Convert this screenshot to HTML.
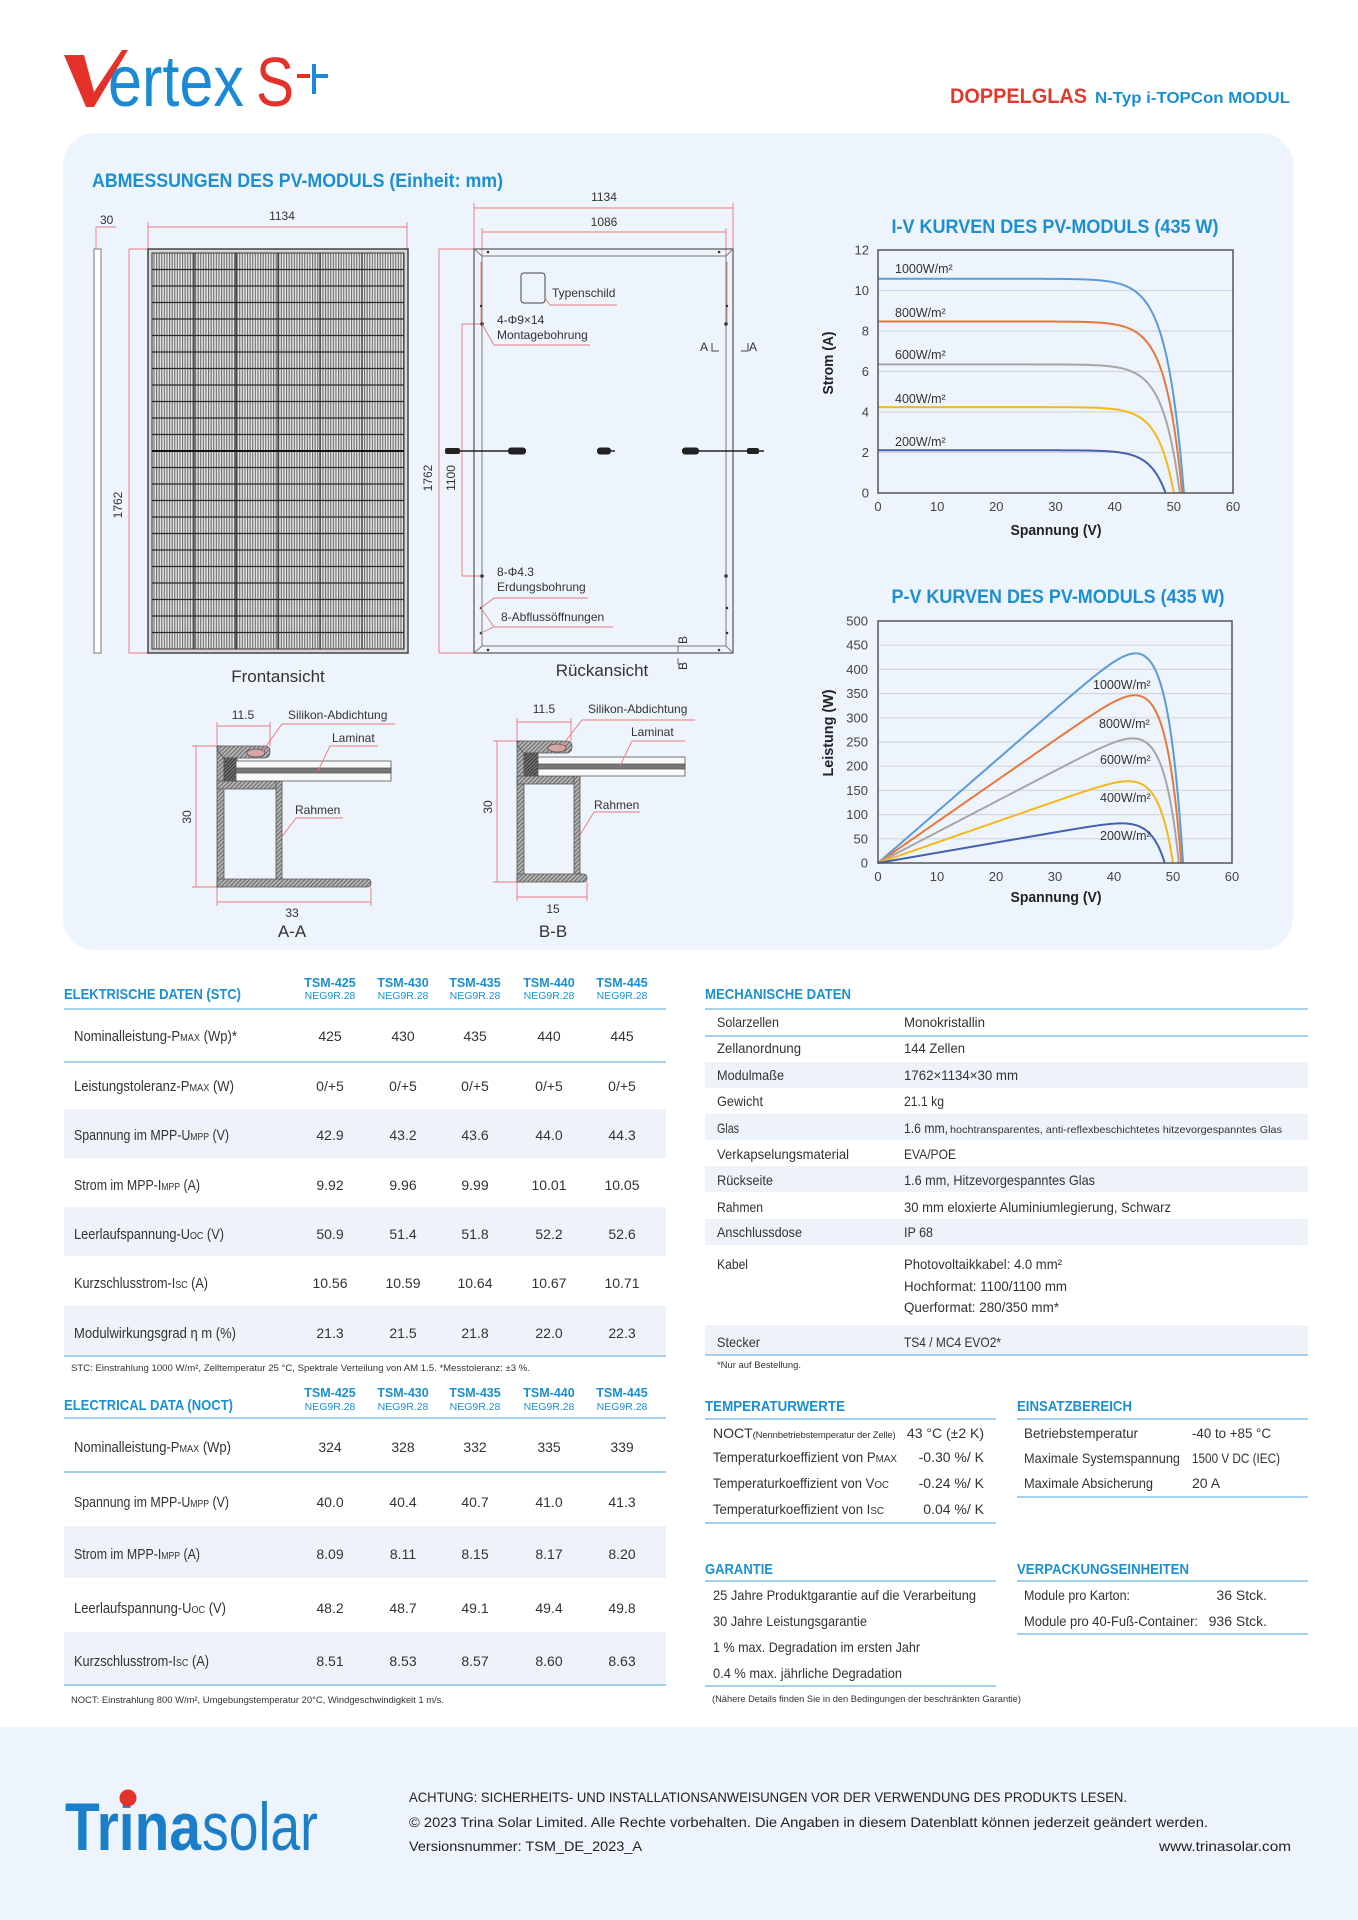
<!DOCTYPE html>
<html><head><meta charset="utf-8">
<style>
html,body{margin:0;padding:0;background:#fff;}
svg{display:block}
text{font-family:"Liberation Sans",Arial,sans-serif;}
.b{font-weight:bold}
.h{font-weight:bold;fill:#1c8fd1}
.t{fill:#333;font-size:15px}
.s{fill:#333;font-size:14px}
.d{fill:#333;font-size:12px}
.v{fill:#333;font-size:14px;text-anchor:middle}
.tk{fill:#444;font-size:13px}
.r{stroke:#e8797c;stroke-width:0.9;fill:none}
.ln{stroke:#86c4e8;stroke-width:1.6;fill:none}
.sh{fill:#eef3fa}
.ch{font-weight:bold;fill:#1c8fd1;font-size:12.5px;text-anchor:middle}
.cs{fill:#1c8fd1;font-size:10.5px;text-anchor:middle}
.fn{fill:#333;font-size:9.5px}
.ft{fill:#222;font-size:14px}
.gr{stroke:#d3d7dd;stroke-width:1.2}
</style></head><body>
<svg width="1358" height="1920" viewBox="0 0 1358 1920">
<defs>
<pattern id="st" patternUnits="userSpaceOnUse" width="2.6" height="10"><rect width="2.6" height="10" fill="#e6e6e6"/><rect width="1.1" height="10" fill="#6a6a6a"/></pattern>
<pattern id="hat" patternUnits="userSpaceOnUse" width="3" height="3" patternTransform="rotate(45)"><rect width="3" height="3" fill="#b4b4b4"/><rect width="1" height="3" fill="#666"/></pattern>
<pattern id="hat2" patternUnits="userSpaceOnUse" width="2.5" height="2.5" patternTransform="rotate(45)"><rect width="2.5" height="2.5" fill="#777"/><rect width="1" height="2.5" fill="#333"/></pattern>
</defs>

<!-- HEADER -->
<polygon points="64,55 84,55 94,92 122,50 128,50 94,107 86,107" fill="#e4322b"/>
<text x="108" y="106" font-size="72" fill="#1b8ad6" textLength="136" lengthAdjust="spacingAndGlyphs">ertex</text>
<text x="256" y="106" font-size="70" fill="#e4322b" textLength="38" lengthAdjust="spacingAndGlyphs">S</text>
<rect x="297" y="74" width="13" height="4" fill="#e4322b"/>
<rect x="312" y="64" width="4" height="30" fill="#1b8ad6"/>
<rect x="316" y="74" width="12" height="4" fill="#1b8ad6"/>
<text x="950" y="103" class="b" font-size="21" fill="#e03a2f" textLength="137" lengthAdjust="spacingAndGlyphs">DOPPELGLAS</text>
<text x="1095" y="103" class="b" font-size="16" fill="#1c8fd1" textLength="195" lengthAdjust="spacingAndGlyphs">N-Typ i-TOPCon MODUL</text>

<!-- CARD -->
<rect x="63" y="133" width="1230" height="817" rx="32" fill="#eef4fb"/>
<text x="92" y="187" class="h" font-size="19" textLength="411" lengthAdjust="spacingAndGlyphs">ABMESSUNGEN DES PV-MODULS (Einheit: mm)</text>

<!-- FRONT VIEW -->
<rect x="94" y="249" width="7" height="404" fill="#fff" stroke="#777" stroke-width="1"/>
<path class="r" d="M96,227V249M96,227H116"/>
<text x="100" y="224" class="d">30</text>
<path class="r" d="M148,227H407M148,222V249M407,222V249"/>
<text x="282" y="220" class="d" text-anchor="middle">1134</text>
<path class="r" d="M129,249V653M129,249H148M129,653H148"/>
<text transform="translate(122,505) rotate(-90)" class="d" text-anchor="middle">1762</text>
<rect x="148" y="249" width="260" height="404" fill="#d8d8d8" stroke="#444" stroke-width="1.5"/>
<rect x="152" y="253" width="252" height="396" fill="url(#st)" stroke="#333" stroke-width="1"/>
<path stroke="#2a2a2a" stroke-width="1.2" fill="none" d="M194,253V649M236,253V649M278,253V649M320,253V649M362,253V649M152,269.5H404M152,286H404M152,302.5H404M152,319H404M152,335.5H404M152,352H404M152,368.5H404M152,385H404M152,401.5H404M152,418H404M152,434.5H404M152,467.5H404M152,484H404M152,500.5H404M152,517H404M152,533.5H404M152,550H404M152,566.5H404M152,583H404M152,599.5H404M152,616H404M152,632.5H404"/>
<path stroke="#111" stroke-width="2" d="M152,451H404"/>
<text x="278" y="682" font-size="17" fill="#333" text-anchor="middle">Frontansicht</text>

<!-- BACK VIEW -->
<path class="r" d="M474,208H733M474,203V249M733,203V249"/>
<text x="604" y="201" class="d" text-anchor="middle">1134</text>
<path class="r" d="M482,232H726M482,228V256M726,228V256"/>
<text x="604" y="226" class="d" text-anchor="middle">1086</text>
<path class="r" d="M439,249V653M439,249H474M439,653H474"/>
<text transform="translate(432,478) rotate(-90)" class="d" text-anchor="middle">1762</text>
<path class="r" d="M462,324V576M462,324H482M462,576H482"/>
<text transform="translate(455,478) rotate(-90)" class="d" text-anchor="middle">1100</text>
<path class="r" d="M481,262V325M727,262V325"/>
<rect x="474" y="249" width="259" height="404" fill="none" stroke="#555" stroke-width="1.2"/>
<rect x="482" y="256" width="244" height="390" fill="none" stroke="#777" stroke-width="1"/>
<path d="M474,249L482,256M733,249L726,256M474,653L482,646M733,653L726,646" stroke="#777"/>
<g fill="#333">
<circle cx="488" cy="252" r="1.3"/><circle cx="719" cy="252" r="1.3"/><circle cx="488" cy="650" r="1.3"/><circle cx="719" cy="650" r="1.3"/>
<circle cx="482" cy="324" r="1.8"/><circle cx="726" cy="324" r="1.8"/><circle cx="482" cy="576" r="1.8"/><circle cx="726" cy="576" r="1.8"/>
<circle cx="481" cy="608" r="1.3"/><circle cx="481" cy="633" r="1.3"/><circle cx="727" cy="608" r="1.3"/><circle cx="727" cy="633" r="1.3"/>
<circle cx="481" cy="306" r="1.2"/><circle cx="727" cy="306" r="1.2"/>
</g>
<rect x="521" y="273" width="24" height="30" rx="3" fill="none" stroke="#444" stroke-width="1"/>
<text x="552" y="297" class="d">Typenschild</text>
<path class="r" d="M545,298L550,305H617"/>
<text x="497" y="324" class="d">4-Φ9×14</text>
<text x="497" y="339" class="d">Montagebohrung</text>
<path class="r" d="M482,324L494,345H590"/>
<text x="700" y="351" class="d">A</text>
<path d="M712,343V351H719M741,351H748V343" stroke="#444" fill="none" stroke-width="1"/>
<text x="749" y="351" class="d">A</text>
<g fill="#222">
<rect x="445" y="448" width="15" height="6" rx="2"/>
<rect x="508" y="447.5" width="18" height="7" rx="3"/>
<rect x="597" y="447.5" width="14" height="7" rx="3"/>
<rect x="682" y="447.5" width="17" height="7" rx="3"/>
<rect x="747" y="448" width="12" height="6" rx="2"/>
</g>
<path d="M460,451H508M611,451H615M699,451H747M759,451H764" stroke="#222" stroke-width="1.5"/>
<text x="497" y="576" class="d">8-Φ4.3</text>
<text x="497" y="591" class="d">Erdungsbohrung</text>
<path class="r" d="M481,608L494,598H588"/>
<text x="501" y="621" class="d">8-Abflussöffnungen</text>
<path class="r" d="M481,633L494,627H613M481,608L494,627"/>
<text transform="translate(687,640) rotate(-90)" class="d" text-anchor="middle">B</text>
<text transform="translate(687,666) rotate(-90)" class="d" text-anchor="middle">B</text>
<path d="M678,646V652M678,658V664H684" stroke="#444" fill="none" stroke-width="0.8"/>
<text x="602" y="676" font-size="17" fill="#333" text-anchor="middle">Rückansicht</text>

<!-- CROSS SECTION A-A -->
<path class="r" d="M217,726H270M217,722V746M270,722V746"/>
<path class="r" d="M196,746V887M192,746H217M192,887H217"/>
<path class="r" d="M217,902H371M217,887V906M371,887V906"/>
<g stroke="#555" stroke-width="0.8">
<rect x="217" y="746" width="7" height="141" fill="url(#hat)"/>
<path d="M217,750Q217,746 221,746H264Q270,746 270,751Q270,758 264,758H224Z" fill="url(#hat)"/>
<rect x="217" y="781" width="65" height="8" fill="url(#hat)"/>
<rect x="276" y="781" width="6" height="106" fill="url(#hat)"/>
<path d="M217,879H367Q371,879 371,883Q371,887 367,887H217Z" fill="url(#hat)"/>
<rect x="224" y="758" width="13" height="23" fill="url(#hat2)"/>
<rect x="236" y="761" width="155" height="20" fill="#f7f9fb"/>
<rect x="236" y="768" width="155" height="5" fill="#777"/>
<ellipse cx="256" cy="753" rx="9" ry="4" fill="#d7a5a5"/>
</g>
<path class="r" d="M262,752L282,724H395M318,771L330,746H378M281,838L296,818H343"/>
<text x="243" y="719" class="d" text-anchor="middle">11.5</text>
<text x="288" y="719" class="d">Silikon-Abdichtung</text>
<text x="332" y="742" class="d">Laminat</text>
<text x="295" y="814" class="d">Rahmen</text>
<text transform="translate(191,817) rotate(-90)" class="d" text-anchor="middle">30</text>
<text x="292" y="917" class="d" text-anchor="middle">33</text>
<text x="292" y="937" font-size="17" fill="#333" text-anchor="middle">A-A</text>

<!-- CROSS SECTION B-B -->
<path class="r" d="M517,722H571M517,718V741M571,718V741"/>
<path class="r" d="M497,741V882M493,741H517M493,882H517"/>
<path class="r" d="M517,897H587M517,882V901M587,882V901"/>
<g stroke="#555" stroke-width="0.8">
<rect x="517" y="741" width="7" height="141" fill="url(#hat)"/>
<path d="M517,745Q517,741 521,741H566Q572,741 572,746Q572,753 566,753H524Z" fill="url(#hat)"/>
<rect x="517" y="776" width="63" height="8" fill="url(#hat)"/>
<rect x="574" y="776" width="6" height="106" fill="url(#hat)"/>
<path d="M517,874H583Q587,874 587,878Q587,882 583,882H517Z" fill="url(#hat)"/>
<rect x="524" y="753" width="14" height="23" fill="url(#hat2)"/>
<rect x="538" y="757" width="147" height="19" fill="#f7f9fb"/>
<rect x="538" y="764" width="147" height="5" fill="#777"/>
<ellipse cx="557" cy="748" rx="9" ry="4" fill="#d7a5a5"/>
</g>
<path class="r" d="M560,748L582,720H695M620,766L632,741H685M580,835L594,812H640"/>
<text x="544" y="713" class="d" text-anchor="middle">11.5</text>
<text x="588" y="713" class="d">Silikon-Abdichtung</text>
<text x="631" y="736" class="d">Laminat</text>
<text x="594" y="809" class="d">Rahmen</text>
<text transform="translate(492,807) rotate(-90)" class="d" text-anchor="middle">30</text>
<text x="553" y="913" class="d" text-anchor="middle">15</text>
<text x="553" y="937" font-size="17" fill="#333" text-anchor="middle">B-B</text>

<!-- IV CHART -->
<text x="1055" y="233" class="h" font-size="19.5" text-anchor="middle" textLength="327" lengthAdjust="spacingAndGlyphs">I-V KURVEN DES PV-MODULS (435 W)</text>
<path class="gr" d="M878,452.5H1233M878,412H1233M878,371.5H1233M878,331H1233M878,290.5H1233"/>
<g class="tk" text-anchor="end">
<text x="869" y="497.5">0</text><text x="869" y="457">2</text><text x="869" y="416.5">4</text><text x="869" y="376">6</text><text x="869" y="335.5">8</text><text x="869" y="295">10</text><text x="869" y="254.5">12</text>
</g>
<g class="tk" text-anchor="middle">
<text x="878" y="511">0</text><text x="937.2" y="511">10</text><text x="996.3" y="511">20</text><text x="1055.5" y="511">30</text><text x="1114.7" y="511">40</text><text x="1173.8" y="511">50</text><text x="1233" y="511">60</text>
</g>
<text x="1056" y="535" class="b" font-size="15" fill="#222" text-anchor="middle" textLength="91" lengthAdjust="spacingAndGlyphs">Spannung (V)</text>
<text transform="translate(833,363) rotate(-90)" class="b" font-size="15" fill="#222" text-anchor="middle" textLength="63" lengthAdjust="spacingAndGlyphs">Strom (A)</text>
<g fill="none" stroke-width="2">
<path id="i0" stroke="#5b9bd5"/><path id="i1" stroke="#e5773f"/><path id="i2" stroke="#a6a6a6"/><path id="i3" stroke="#f4b81c"/><path id="i4" stroke="#4262ad"/>
</g>
<rect x="878" y="250" width="355" height="243" fill="none" stroke="#555" stroke-width="1.5"/>
<g font-size="12.5" fill="#333">
<text x="895" y="273">1000W/m²</text><text x="895" y="317">800W/m²</text><text x="895" y="359">600W/m²</text><text x="895" y="403">400W/m²</text><text x="895" y="446">200W/m²</text>
</g>

<!-- PV CHART -->
<text x="1058" y="603" class="h" font-size="19.5" text-anchor="middle" textLength="333" lengthAdjust="spacingAndGlyphs">P-V KURVEN DES PV-MODULS (435 W)</text>
<path class="gr" d="M878,838.8H1232M878,814.6H1232M878,790.4H1232M878,766.2H1232M878,742H1232M878,717.8H1232M878,693.6H1232M878,669.4H1232M878,645.2H1232"/>
<g class="tk" text-anchor="end">
<text x="868" y="867.5">0</text><text x="868" y="843.3">50</text><text x="868" y="819.1">100</text><text x="868" y="794.9">150</text><text x="868" y="770.7">200</text><text x="868" y="746.5">250</text><text x="868" y="722.3">300</text><text x="868" y="698.1">350</text><text x="868" y="673.9">400</text><text x="868" y="649.7">450</text><text x="868" y="625.5">500</text>
</g>
<g class="tk" text-anchor="middle">
<text x="878" y="881">0</text><text x="937" y="881">10</text><text x="996" y="881">20</text><text x="1055" y="881">30</text><text x="1114" y="881">40</text><text x="1173" y="881">50</text><text x="1232" y="881">60</text>
</g>
<text x="1056" y="902" class="b" font-size="15" fill="#222" text-anchor="middle" textLength="91" lengthAdjust="spacingAndGlyphs">Spannung (V)</text>
<text transform="translate(833,733) rotate(-90)" class="b" font-size="15" fill="#222" text-anchor="middle" textLength="87" lengthAdjust="spacingAndGlyphs">Leistung (W)</text>
<g fill="none" stroke-width="2">
<path id="p0" stroke="#5b9bd5"/><path id="p1" stroke="#e5773f"/><path id="p2" stroke="#a6a6a6"/><path id="p3" stroke="#f4b81c"/><path id="p4" stroke="#4262ad"/>
</g>
<rect x="878" y="621" width="354" height="242" fill="none" stroke="#555" stroke-width="1.5"/>
<g font-size="12.5" fill="#333">
<text x="1093" y="689">1000W/m²</text><text x="1099" y="728">800W/m²</text><text x="1100" y="764">600W/m²</text><text x="1100" y="802">400W/m²</text><text x="1100" y="840">200W/m²</text>
</g>

<!-- STC TABLE -->
<rect class="sh" x="64" y="1109" width="602" height="49"/>
<rect class="sh" x="64" y="1207" width="602" height="49"/>
<rect class="sh" x="64" y="1306" width="602" height="50"/>
<path class="ln" d="M64,1009H666M64,1062H666M64,1356H666"/>
<text x="64" y="999" class="h" font-size="15" textLength="177" lengthAdjust="spacingAndGlyphs">ELEKTRISCHE DATEN (STC)</text>
<text x="330" y="987" class="ch">TSM-425</text><text x="330" y="999" class="cs">NEG9R.28</text>
<text x="403" y="987" class="ch">TSM-430</text><text x="403" y="999" class="cs">NEG9R.28</text>
<text x="475" y="987" class="ch">TSM-435</text><text x="475" y="999" class="cs">NEG9R.28</text>
<text x="549" y="987" class="ch">TSM-440</text><text x="549" y="999" class="cs">NEG9R.28</text>
<text x="622" y="987" class="ch">TSM-445</text><text x="622" y="999" class="cs">NEG9R.28</text>

<text x="74" y="1041" class="t" textLength="163" lengthAdjust="spacingAndGlyphs">Nominalleistung-P<tspan font-size="10.5">MAX</tspan> (Wp)*</text>
<text x="74" y="1091" class="t" textLength="160" lengthAdjust="spacingAndGlyphs">Leistungstoleranz-P<tspan font-size="10.5">MAX</tspan> (W)</text>
<text x="74" y="1140" class="t" textLength="155" lengthAdjust="spacingAndGlyphs">Spannung im MPP-U<tspan font-size="10.5">MPP</tspan> (V)</text>
<text x="74" y="1190" class="t" textLength="126" lengthAdjust="spacingAndGlyphs">Strom im MPP-I<tspan font-size="10.5">MPP</tspan> (A)</text>
<text x="74" y="1239" class="t" textLength="150" lengthAdjust="spacingAndGlyphs">Leerlaufspannung-U<tspan font-size="10.5">OC</tspan> (V)</text>
<text x="74" y="1288" class="t" textLength="134" lengthAdjust="spacingAndGlyphs">Kurzschlusstrom-I<tspan font-size="10.5">SC</tspan> (A)</text>
<text x="74" y="1338" class="t" textLength="162" lengthAdjust="spacingAndGlyphs">Modulwirkungsgrad η m (%)</text>
<g class="v">
<text x="330" y="1041">425</text><text x="403" y="1041">430</text><text x="475" y="1041">435</text><text x="549" y="1041">440</text><text x="622" y="1041">445</text>
<text x="330" y="1091">0/+5</text><text x="403" y="1091">0/+5</text><text x="475" y="1091">0/+5</text><text x="549" y="1091">0/+5</text><text x="622" y="1091">0/+5</text>
<text x="330" y="1140">42.9</text><text x="403" y="1140">43.2</text><text x="475" y="1140">43.6</text><text x="549" y="1140">44.0</text><text x="622" y="1140">44.3</text>
<text x="330" y="1190">9.92</text><text x="403" y="1190">9.96</text><text x="475" y="1190">9.99</text><text x="549" y="1190">10.01</text><text x="622" y="1190">10.05</text>
<text x="330" y="1239">50.9</text><text x="403" y="1239">51.4</text><text x="475" y="1239">51.8</text><text x="549" y="1239">52.2</text><text x="622" y="1239">52.6</text>
<text x="330" y="1288">10.56</text><text x="403" y="1288">10.59</text><text x="475" y="1288">10.64</text><text x="549" y="1288">10.67</text><text x="622" y="1288">10.71</text>
<text x="330" y="1338">21.3</text><text x="403" y="1338">21.5</text><text x="475" y="1338">21.8</text><text x="549" y="1338">22.0</text><text x="622" y="1338">22.3</text>
</g>
<text x="71" y="1371" class="fn" textLength="459" lengthAdjust="spacingAndGlyphs">STC: Einstrahlung 1000 W/m², Zelltemperatur 25 °C, Spektrale Verteilung von AM 1.5.     *Messtoleranz: ±3 %.</text>

<!-- MECHANICAL TABLE -->
<rect class="sh" x="705" y="1062" width="603" height="26"/>
<rect class="sh" x="705" y="1114" width="603" height="26"/>
<rect class="sh" x="705" y="1166" width="603" height="26"/>
<rect class="sh" x="705" y="1219" width="603" height="26"/>
<rect class="sh" x="705" y="1325" width="603" height="30"/>
<path class="ln" d="M705,1009H1308M705,1036H1308M705,1355H1308"/>
<text x="705" y="999" class="h" font-size="15" textLength="146" lengthAdjust="spacingAndGlyphs">MECHANISCHE DATEN</text>
<g class="s">
<text x="717" y="1027" textLength="62" lengthAdjust="spacingAndGlyphs">Solarzellen</text>
<text x="904" y="1027" textLength="81" lengthAdjust="spacingAndGlyphs">Monokristallin</text>
<text x="717" y="1053" textLength="84" lengthAdjust="spacingAndGlyphs">Zellanordnung</text>
<text x="904" y="1053" textLength="61" lengthAdjust="spacingAndGlyphs">144 Zellen</text>
<text x="717" y="1080" textLength="67" lengthAdjust="spacingAndGlyphs">Modulmaße</text>
<text x="904" y="1080" textLength="114" lengthAdjust="spacingAndGlyphs">1762×1134×30 mm</text>
<text x="717" y="1106" textLength="46" lengthAdjust="spacingAndGlyphs">Gewicht</text>
<text x="904" y="1106" textLength="40" lengthAdjust="spacingAndGlyphs">21.1 kg</text>
<text x="717" y="1133" textLength="22" lengthAdjust="spacingAndGlyphs">Glas</text>
<text x="904" y="1133" textLength="44" lengthAdjust="spacingAndGlyphs">1.6 mm,</text>
<text x="950" y="1133" font-size="10.5" textLength="332" lengthAdjust="spacingAndGlyphs">hochtransparentes, anti-reflexbeschichtetes hitzevorgespanntes Glas</text>
<text x="717" y="1159" textLength="132" lengthAdjust="spacingAndGlyphs">Verkapselungsmaterial</text>
<text x="904" y="1159" textLength="52" lengthAdjust="spacingAndGlyphs">EVA/POE</text>
<text x="717" y="1185" textLength="56" lengthAdjust="spacingAndGlyphs">Rückseite</text>
<text x="904" y="1185" textLength="191" lengthAdjust="spacingAndGlyphs">1.6 mm, Hitzevorgespanntes Glas</text>
<text x="717" y="1212" textLength="46" lengthAdjust="spacingAndGlyphs">Rahmen</text>
<text x="904" y="1212" textLength="267" lengthAdjust="spacingAndGlyphs">30 mm eloxierte Aluminiumlegierung, Schwarz</text>
<text x="717" y="1237" textLength="85" lengthAdjust="spacingAndGlyphs">Anschlussdose</text>
<text x="904" y="1237" textLength="29" lengthAdjust="spacingAndGlyphs">IP 68</text>
<text x="717" y="1269" textLength="31" lengthAdjust="spacingAndGlyphs">Kabel</text>
<text x="904" y="1269" textLength="158" lengthAdjust="spacingAndGlyphs">Photovoltaikkabel: 4.0 mm²</text>
<text x="904" y="1291" textLength="163" lengthAdjust="spacingAndGlyphs">Hochformat: 1100/1100 mm</text>
<text x="904" y="1312" textLength="155" lengthAdjust="spacingAndGlyphs">Querformat: 280/350 mm*</text>
<text x="717" y="1347" textLength="43" lengthAdjust="spacingAndGlyphs">Stecker</text>
<text x="904" y="1347" textLength="97" lengthAdjust="spacingAndGlyphs">TS4 / MC4 EVO2*</text>
</g>
<text x="717" y="1368" class="fn" textLength="84" lengthAdjust="spacingAndGlyphs">*Nur auf Bestellung.</text>

<!-- NOCT TABLE -->
<rect class="sh" x="64" y="1526" width="602" height="52"/>
<rect class="sh" x="64" y="1632" width="602" height="53"/>
<path class="ln" d="M64,1418H666M64,1472H666M64,1685H666"/>
<text x="64" y="1410" class="h" font-size="15" textLength="169" lengthAdjust="spacingAndGlyphs">ELECTRICAL DATA (NOCT)</text>
<text x="330" y="1397" class="ch">TSM-425</text><text x="330" y="1410" class="cs">NEG9R.28</text>
<text x="403" y="1397" class="ch">TSM-430</text><text x="403" y="1410" class="cs">NEG9R.28</text>
<text x="475" y="1397" class="ch">TSM-435</text><text x="475" y="1410" class="cs">NEG9R.28</text>
<text x="549" y="1397" class="ch">TSM-440</text><text x="549" y="1410" class="cs">NEG9R.28</text>
<text x="622" y="1397" class="ch">TSM-445</text><text x="622" y="1410" class="cs">NEG9R.28</text>
<text x="74" y="1452" class="t" textLength="157" lengthAdjust="spacingAndGlyphs">Nominalleistung-P<tspan font-size="10.5">MAX</tspan> (Wp)</text>
<text x="74" y="1507" class="t" textLength="155" lengthAdjust="spacingAndGlyphs">Spannung im MPP-U<tspan font-size="10.5">MPP</tspan> (V)</text>
<text x="74" y="1559" class="t" textLength="126" lengthAdjust="spacingAndGlyphs">Strom im MPP-I<tspan font-size="10.5">MPP</tspan> (A)</text>
<text x="74" y="1613" class="t" textLength="152" lengthAdjust="spacingAndGlyphs">Leerlaufspannung-U<tspan font-size="10.5">OC</tspan> (V)</text>
<text x="74" y="1666" class="t" textLength="135" lengthAdjust="spacingAndGlyphs">Kurzschlusstrom-I<tspan font-size="10.5">SC</tspan> (A)</text>
<g class="v">
<text x="330" y="1452">324</text><text x="403" y="1452">328</text><text x="475" y="1452">332</text><text x="549" y="1452">335</text><text x="622" y="1452">339</text>
<text x="330" y="1507">40.0</text><text x="403" y="1507">40.4</text><text x="475" y="1507">40.7</text><text x="549" y="1507">41.0</text><text x="622" y="1507">41.3</text>
<text x="330" y="1559">8.09</text><text x="403" y="1559">8.11</text><text x="475" y="1559">8.15</text><text x="549" y="1559">8.17</text><text x="622" y="1559">8.20</text>
<text x="330" y="1613">48.2</text><text x="403" y="1613">48.7</text><text x="475" y="1613">49.1</text><text x="549" y="1613">49.4</text><text x="622" y="1613">49.8</text>
<text x="330" y="1666">8.51</text><text x="403" y="1666">8.53</text><text x="475" y="1666">8.57</text><text x="549" y="1666">8.60</text><text x="622" y="1666">8.63</text>
</g>
<text x="71" y="1703" class="fn" textLength="373" lengthAdjust="spacingAndGlyphs">NOCT: Einstrahlung 800 W/m², Umgebungstemperatur 20°C, Windgeschwindigkeit 1  m/s.</text>

<!-- TEMPERATURWERTE -->
<path class="ln" d="M705,1419H996M705,1523H996"/>
<text x="705" y="1411" class="h" font-size="15" textLength="140" lengthAdjust="spacingAndGlyphs">TEMPERATURWERTE</text>
<g class="s">
<text x="713" y="1438">NOCT<tspan font-size="9.5" textLength="143">(Nennbetriebstemperatur der Zelle)</tspan></text>
<text x="984" y="1438" text-anchor="end">43 °C (±2 K)</text>
<text x="713" y="1462" textLength="184" lengthAdjust="spacingAndGlyphs">Temperaturkoeffizient von P<tspan font-size="10.5">MAX</tspan></text>
<text x="984" y="1462" text-anchor="end">-0.30 %/ K</text>
<text x="713" y="1488" textLength="176" lengthAdjust="spacingAndGlyphs">Temperaturkoeffizient von V<tspan font-size="10.5">OC</tspan></text>
<text x="984" y="1488" text-anchor="end">-0.24 %/ K</text>
<text x="713" y="1514" textLength="171" lengthAdjust="spacingAndGlyphs">Temperaturkoeffizient von I<tspan font-size="10.5">SC</tspan></text>
<text x="984" y="1514" text-anchor="end">0.04 %/ K</text>
</g>

<!-- EINSATZBEREICH -->
<path class="ln" d="M1017,1419H1308M1017,1497H1308"/>
<text x="1017" y="1411" class="h" font-size="15" textLength="115" lengthAdjust="spacingAndGlyphs">EINSATZBEREICH</text>
<g class="s">
<text x="1024" y="1438" textLength="114" lengthAdjust="spacingAndGlyphs">Betriebstemperatur</text>
<text x="1192" y="1438" textLength="79" lengthAdjust="spacingAndGlyphs">-40 to +85 °C</text>
<text x="1024" y="1463" textLength="156" lengthAdjust="spacingAndGlyphs">Maximale Systemspannung</text>
<text x="1192" y="1463" textLength="88" lengthAdjust="spacingAndGlyphs">1500 V DC (IEC)</text>
<text x="1024" y="1488" textLength="129" lengthAdjust="spacingAndGlyphs">Maximale Absicherung</text>
<text x="1192" y="1488">20 A</text>
</g>

<!-- GARANTIE -->
<path class="ln" d="M705,1581H996M705,1686H996"/>
<text x="705" y="1574" class="h" font-size="15" textLength="68" lengthAdjust="spacingAndGlyphs">GARANTIE</text>
<g class="s">
<text x="713" y="1600" textLength="263" lengthAdjust="spacingAndGlyphs">25 Jahre Produktgarantie auf die Verarbeitung</text>
<text x="713" y="1626" textLength="154" lengthAdjust="spacingAndGlyphs">30 Jahre Leistungsgarantie</text>
<text x="713" y="1652" textLength="207" lengthAdjust="spacingAndGlyphs">1 % max. Degradation im ersten Jahr</text>
<text x="713" y="1678" textLength="189" lengthAdjust="spacingAndGlyphs">0.4 % max. jährliche Degradation</text>
</g>
<text x="712" y="1702" class="fn" textLength="309" lengthAdjust="spacingAndGlyphs">(Nähere Details finden Sie in den Bedingungen der beschränkten Garantie)</text>

<!-- VERPACKUNG -->
<path class="ln" d="M1017,1581H1308M1017,1634H1308"/>
<text x="1017" y="1574" class="h" font-size="15" textLength="172" lengthAdjust="spacingAndGlyphs">VERPACKUNGSEINHEITEN</text>
<g class="s">
<text x="1024" y="1600" textLength="106" lengthAdjust="spacingAndGlyphs">Module pro Karton:</text>
<text x="1267" y="1600" text-anchor="end">36 Stck.</text>
<text x="1024" y="1626" textLength="174" lengthAdjust="spacingAndGlyphs">Module pro 40-Fuß-Container:</text>
<text x="1267" y="1626" text-anchor="end">936 Stck.</text>
</g>

<!-- FOOTER -->
<rect x="0" y="1727" width="1358" height="193" fill="#eef4fb"/>
<text x="65" y="1850" class="b" font-size="68" fill="#1a7fc8" textLength="136" lengthAdjust="spacingAndGlyphs">Trina</text>
<text x="202" y="1850" font-size="68" fill="#1a7fc8" textLength="116" lengthAdjust="spacingAndGlyphs">solar</text>
<circle cx="128" cy="1798" r="8.5" fill="#e4322b"/>
<text x="409" y="1802" class="ft" textLength="718" lengthAdjust="spacingAndGlyphs">ACHTUNG: SICHERHEITS- UND INSTALLATIONSANWEISUNGEN VOR DER VERWENDUNG DES PRODUKTS LESEN.</text>
<text x="409" y="1827" class="ft" textLength="799" lengthAdjust="spacingAndGlyphs">© 2023 Trina Solar Limited. Alle Rechte vorbehalten. Die Angaben in diesem Datenblatt können jederzeit geändert werden.</text>
<text x="409" y="1851" class="ft" textLength="233" lengthAdjust="spacingAndGlyphs">Versionsnummer: TSM_DE_2023_A</text>
<text x="1291" y="1851" class="ft" text-anchor="end" textLength="132" lengthAdjust="spacingAndGlyphs">www.trinasolar.com</text>
</svg>
<script>
(function(){
var P=[[10.58,51.7,2.9],[8.47,51.4,2.8],[6.35,51.0,2.8],[4.24,50.0,2.7],[2.11,48.6,2.6]];
for(var k=0;k<5;k++){
 var p=P[k],Isc=p[0],Voc=p[1],Vt=p[2],den=1-Math.exp(-Voc/Vt),a='',b='';
 for(var i=0;i<=300;i++){
  var V=Voc*i/300,I=Isc*(1-Math.exp((V-Voc)/Vt))/den; if(I<0)I=0;
  var x1=(878+V*355/60).toFixed(2), x2=(878+V*354/60).toFixed(2);
  a+=(i?'L':'M')+x1+' '+(493-I*243/12).toFixed(2);
  b+=(i?'L':'M')+x2+' '+(863-V*I*242/500).toFixed(2);
 }
 document.getElementById('i'+k).setAttribute('d',a);
 document.getElementById('p'+k).setAttribute('d',b);
}
})();
</script>
</body></html>
